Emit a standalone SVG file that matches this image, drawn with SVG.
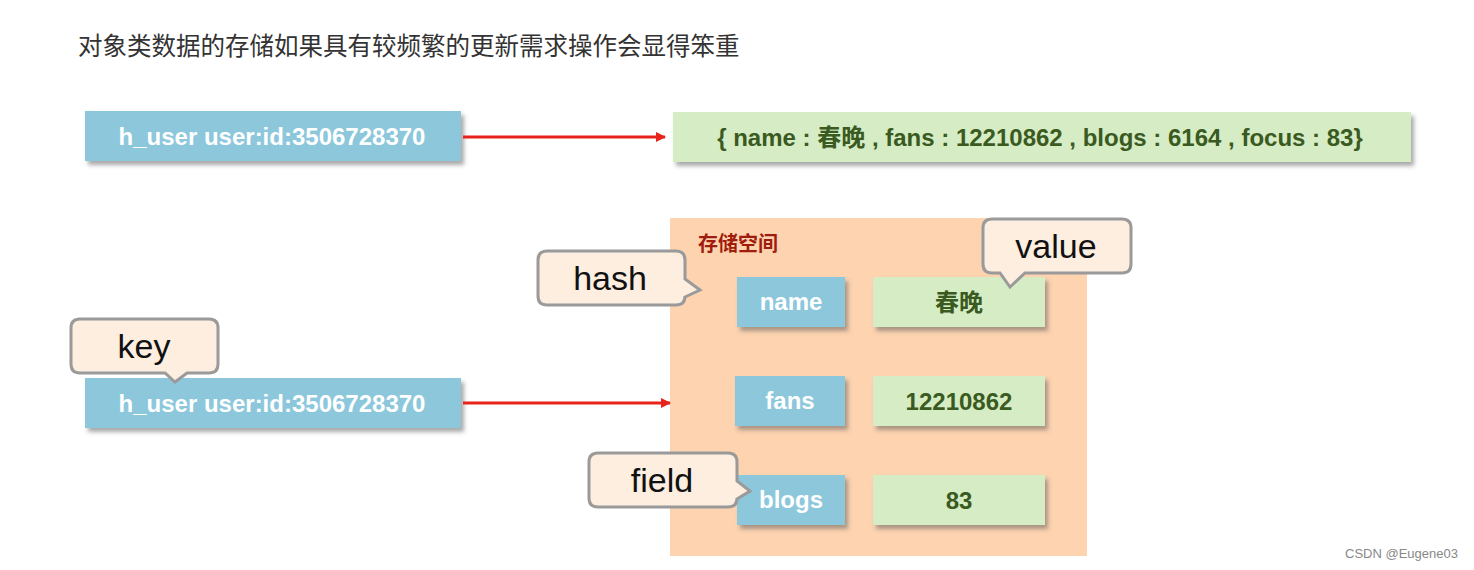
<svg xmlns="http://www.w3.org/2000/svg" width="1474" height="570" viewBox="0 0 1474 570">
<defs>
<marker id="ah" markerWidth="10" markerHeight="10" refX="9" refY="5" orient="auto" markerUnits="userSpaceOnUse"><path d="M0,0 L10,5 L0,10 Z" fill="#e8231b"/></marker>
<filter id="sh" x="-5%" y="-10%" width="115%" height="140%"><feDropShadow dx="3" dy="4" stdDeviation="2" flood-color="#555" flood-opacity="0.5"/></filter>
<style>
.blue{fill:#8cc7dc;filter:url(#sh)}
.green{fill:#d5ecc4;filter:url(#sh)}
.bt{font-family:"Liberation Sans","Noto Sans CJK SC",sans-serif;font-weight:bold;fill:#fff;font-size:24px;text-anchor:middle}
.gt{font-family:"Liberation Sans","Noto Sans CJK SC",sans-serif;font-weight:bold;fill:#3a5a1f;font-size:24px;text-anchor:middle}
.call{fill:#fdeee0;stroke:#9a9a9a;stroke-width:3}
.ct{font-family:"Liberation Sans",sans-serif;font-size:34px;fill:#111;text-anchor:middle}
.ar{stroke:#e8231b;stroke-width:3;fill:none;marker-end:url(#ah)}
</style>
</defs>
<rect width="1474" height="570" fill="#fff"/>
<text x="78" y="55" font-family="'Noto Sans CJK SC',sans-serif" font-size="24.5" fill="#333">对象类数据的存储如果具有较频繁的更新需求操作会显得笨重</text>
<g id="orange"><rect x="670" y="218" width="417" height="338" fill="#fdd3b0"/>
<text x="698" y="251" font-family="'Noto Sans CJK SC',sans-serif" font-weight="bold" font-size="20" fill="#a01c0c">存储空间</text></g>
<g id="key1"><rect class="blue" x="85" y="111" width="376" height="50"/><text class="bt" x="272" y="145">h_user user:id:3506728370</text></g>
<g id="val1"><rect class="green" x="673" y="112" width="738" height="50"/><text class="gt" x="1040" y="146">{ name : 春晚 , fans : 12210862 , blogs : 6164 , focus : 83}</text></g>
<g id="key2"><rect class="blue" x="85" y="378" width="376" height="50"/><text class="bt" x="272" y="412">h_user user:id:3506728370</text></g>
<g id="f-name"><rect class="blue" x="737" y="277" width="108" height="50"/><text class="bt" x="791" y="310">name</text></g>
<g id="v-name"><rect class="green" x="873" y="277" width="172" height="50"/><text class="gt" x="959" y="311">春晚</text></g>
<g id="f-fans"><rect class="blue" x="735" y="376" width="110" height="50"/><text class="bt" x="790" y="409">fans</text></g>
<g id="v-fans"><rect class="green" x="873" y="376" width="172" height="50"/><text class="gt" x="959" y="410">12210862</text></g>
<g id="f-blogs"><rect class="blue" x="737" y="475" width="108" height="50"/><text class="bt" x="791" y="508">blogs</text></g>
<g id="v-blogs"><rect class="green" x="873" y="475" width="172" height="50"/><text class="gt" x="959" y="509">83</text></g>
<g id="connectors">
<line class="ar" x1="463" y1="137" x2="665" y2="137"/>
<line class="ar" x1="463" y1="403" x2="670" y2="403"/>
</g>
<g id="c-key"><path class="call" d="M80,319 H209 Q218,319 218,328 V364 Q218,373 209,373 H187 L175,382 L165,373 H80 Q71,373 71,364 V328 Q71,319 80,319 Z"/><text class="ct" x="144" y="358">key</text></g>
<g id="c-hash"><path class="call" d="M547,251 H676 Q685,251 685,260 V279 L700,290 L685,297 V296 Q685,305 676,305 H547 Q538,305 538,296 V260 Q538,251 547,251 Z"/><text class="ct" x="610" y="290">hash</text></g>
<g id="c-value"><path class="call" d="M992,219 H1122 Q1131,219 1131,228 V264 Q1131,273 1122,273 H1025 L1010,287 L1000,273 H992 Q983,273 983,264 V228 Q983,219 992,219 Z"/><text class="ct" x="1056" y="258">value</text></g>
<g id="c-field"><path class="call" d="M598,453 H728 Q737,453 737,462 V481 L750,491 L737,499 V498 Q737,507 728,507 H598 Q589,507 589,498 V462 Q589,453 598,453 Z"/><text class="ct" x="662" y="492">field</text></g>
<text x="1345" y="558" font-family="'Liberation Sans',sans-serif" font-size="13" fill="#888">CSDN @Eugene03</text>
</svg>
